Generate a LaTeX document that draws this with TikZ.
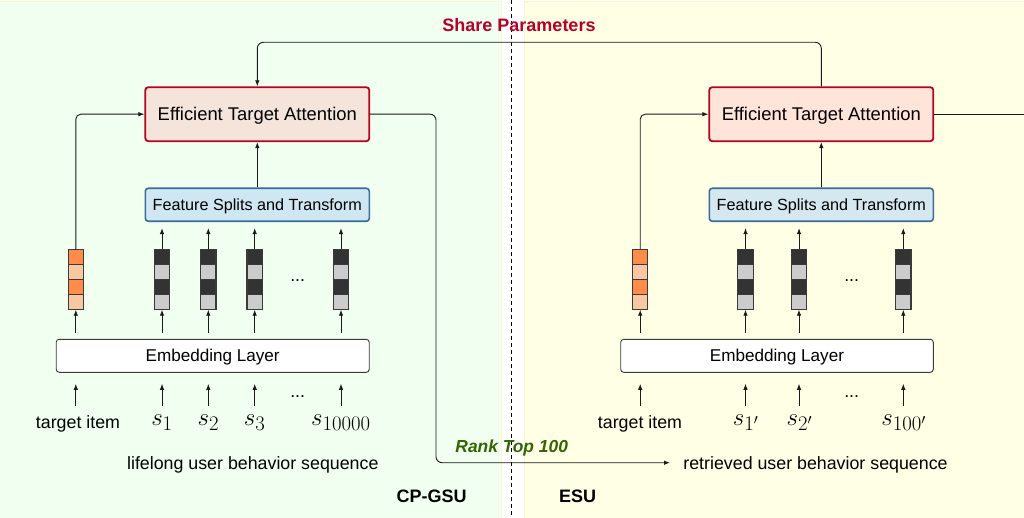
\documentclass[tikz,border=0pt]{standalone}
\usepackage{fontspec}
\setmainfont{Liberation Sans}
\usetikzlibrary{arrows.meta,calc}
\DeclareMathSizes{26}{26}{20}{15}
\definecolor{greenbg}{HTML}{F0FFF0}
\definecolor{yellowbg}{HTML}{FFFFE6}
\definecolor{regionedge}{HTML}{F6F9CF}
\definecolor{etared}{HTML}{B80020}
\definecolor{etafillL}{HTML}{F4E4DA}
\definecolor{etafillR}{HTML}{FFE4DA}
\definecolor{fsblue}{HTML}{3A6B9C}
\definecolor{fsfillL}{HTML}{CFE7F2}
\definecolor{fsfillR}{HTML}{D5E8EF}
\definecolor{sharered}{HTML}{B5002A}
\definecolor{rankgreen}{HTML}{336600}
\definecolor{orgdark}{HTML}{FF8C4B}
\definecolor{orglight}{HTML}{F8C9A0}
\definecolor{graydark}{HTML}{333333}
\definecolor{graylight}{HTML}{CCCCCC}
\definecolor{vecedge}{HTML}{3A3A3A}
\definecolor{linecol}{HTML}{1A1A1A}
\newcommand{\myvec}[4]{%
  \node[vecnode] (#1) at (#2,279.5) {};
  \fill[#3] (#1.north west) rectangle ([yshift=-15pt]#1.north east);
  \fill[#4] ([yshift=-15pt]#1.north west) rectangle ([yshift=-30pt]#1.north east);
  \fill[#3] ([yshift=-30pt]#1.north west) rectangle ([yshift=-45pt]#1.north east);
  \fill[#4] ([yshift=-45pt]#1.north west) rectangle (#1.south east);
  \draw[vecedge,line width=1pt] ([yshift=-15pt]#1.north west) -- ([yshift=-15pt]#1.north east)
    ([yshift=-30pt]#1.north west) -- ([yshift=-30pt]#1.north east)
    ([yshift=-45pt]#1.north west) -- ([yshift=-45pt]#1.north east);
  \draw[vecedge,line width=1.1pt] (#1.north west) rectangle (#1.south east);
}
\begin{document}
\begin{tikzpicture}[x=1pt,y=-1pt,
  arr/.style={draw=linecol,line width=0.9pt,-{Latex[length=6pt,width=4.5pt]}},
  conn/.style={draw=linecol,line width=0.9pt},
  etabox/.style={draw=etared,line width=1.8pt,rounded corners=3pt,minimum width=224pt,minimum height=54pt,inner sep=0pt,text depth=0pt,font=\fontsize{18.4}{22}\selectfont},
  fsbox/.style={draw=fsblue,line width=1.6pt,rounded corners=3pt,minimum width=224pt,minimum height=33pt,inner sep=0pt,text depth=0pt,font=\fontsize{16.2}{19}\selectfont},
  embbox/.style={draw=vecedge,fill=white,line width=0.9pt,rounded corners=3pt,minimum height=33pt,inner sep=0pt,text depth=0pt,font=\fontsize{17.1}{20}\selectfont},
  vecnode/.style={minimum width=15pt,minimum height=60pt,inner sep=0pt},
  txt/.style={inner sep=0pt,anchor=base,font=\fontsize{17.8}{21}\selectfont},
  mth/.style={inner sep=0pt,anchor=base,font=\fontsize{26}{31}\selectfont},
  dotsl/.style={inner sep=0pt,anchor=base,font=\fontsize{17.8}{21}\selectfont},
  bold/.style={inner sep=0pt,anchor=base,font=\fontsize{18}{21}\selectfont\bfseries}
]
\useasboundingbox (0,0) rectangle (1024,518);
\fill[white] (0,0) rectangle (1024,518);
\filldraw[fill=greenbg,draw=regionedge,line width=1pt] (-1,2) rectangle (501,519);
\filldraw[fill=yellowbg,draw=regionedge,line width=1pt] (524,2) rectangle (1025,519);
\draw[black,dashed,dash pattern=on 4pt off 3pt,line width=0.8pt] (511.7,0) -- (511.7,518);

% ---------- left (CP-GSU) ----------
\node[etabox,fill=etafillL] (etaL) at (257.3,114.2) {Efficient Target Attention};
\node[fsbox,fill=fsfillL] (fsL) at (257.3,204.8) {Feature Splits and Transform};
\node[embbox,minimum width=313pt] (embL) at (212.7,355.8) {Embedding Layer};

\myvec{tvL}{75.8}{orgdark}{orglight}
\myvec{v1L}{162}{graydark}{graylight}
\myvec{v2L}{208.3}{graydark}{graylight}
\myvec{v3L}{254.7}{graydark}{graylight}
\myvec{v4L}{341}{graydark}{graylight}
\node[dotsl] (d1L) at (297.7,281) {...};
\node[dotsl] (d2L) at (297.7,397) {...};

\node[txt] (tiL) at (78,428.7) {target item};
\node[mth] (s1L) at (162,425.5) {$s_1$};
\node[mth] (s2L) at (208.3,425.5) {$s_2$};
\node[mth] (s3L) at (254.7,425.5) {$s_3$};
\node[mth] (s4L) at (341,425.5) {$s_{10000}$};
\node[txt] (lifelong) at (252.8,469.5) {lifelong user behavior sequence};
\node[bold] (cpgsu) at (431.7,502.7) {CP-GSU};

\foreach \v in {tvL,v1L,v2L,v3L,v4L}{
  \draw[arr] ($(\v |- embL.north)+(0,-6)$) -- (\v.south);
  \draw[arr] ($(\v |- embL.south)+(0,33)$) -- ($(\v |- embL.south)+(0,11)$);
}
\foreach \v in {v1L,v2L,v3L,v4L}{
  \draw[arr] (\v.north) -- ($(\v |- fsL.south)+(0,6)$);
}
\draw[arr] (fsL.north) -- (etaL.south);
\draw[arr,rounded corners=5pt] (tvL.north) |- (etaL.west);

% ---------- right (ESU) ----------
\node[etabox,fill=etafillR] (etaR) at (821.3,114.2) {Efficient Target Attention};
\node[fsbox,fill=fsfillR] (fsR) at (821.3,204.8) {Feature Splits and Transform};
\node[embbox,minimum width=312.6pt] (embR) at (777,355.8) {Embedding Layer};

\myvec{tvR}{640.2}{orgdark}{orglight}
\myvec{v1R}{745.5}{graydark}{graylight}
\myvec{v2R}{799}{graydark}{graylight}
\myvec{v4R}{903.3}{graydark}{graylight}
\node[dotsl] (d1R) at (851.7,281) {...};
\node[dotsl] (d2R) at (851.7,397) {...};

\node[txt] (tiR) at (640,428.7) {target item};
\node[mth] (s1R) at (745.8,425.5) {$s_{1'}$};
\node[mth] (s2R) at (799.5,425.5) {$s_{2'}$};
\node[mth] (s4R) at (903.8,425.5) {$s_{100'}$};
\node[txt] (retr) at (815.5,469.5) {retrieved user behavior sequence};
\node[bold] (esu) at (577.5,502.7) {ESU};

\foreach \v in {tvR,v1R,v2R,v4R}{
  \draw[arr] ($(\v |- embR.north)+(0,-6)$) -- (\v.south);
  \draw[arr] ($(\v |- embR.south)+(0,33)$) -- ($(\v |- embR.south)+(0,11)$);
}
\foreach \v in {v1R,v2R,v4R}{
  \draw[arr] (\v.north) -- ($(\v |- fsR.south)+(0,6)$);
}
\draw[arr] (fsR.north) -- (etaR.south);
\draw[arr,rounded corners=5pt] (tvR.north) |- (etaR.west);
\coordinate (edgeR) at (1024,114.2);
\draw[conn] (etaR.east) -- (edgeR);

% ---------- share parameters ----------
\coordinate (shareY) at (540,42.3);
\draw[arr,rounded corners=6pt] (etaR.north) -- (etaR.north |- shareY) -- (etaL.north |- shareY) -- (etaL.north);
\node[bold,text=sharered] (share) at (519,32) {Share Parameters};

% ---------- rank top 100 ----------
\coordinate (rk) at (436,462.7);
\coordinate (rkend) at (670,462.7);
\draw[arr,rounded corners=6pt] (etaL.east) -| (rk) -- (rkend);
\node[inner sep=0pt,anchor=base,font=\fontsize{17.4}{21}\selectfont\bfseries\itshape,text=rankgreen] (rank) at (511.7,452.7) {Rank Top 100};
\end{tikzpicture}
\end{document}
